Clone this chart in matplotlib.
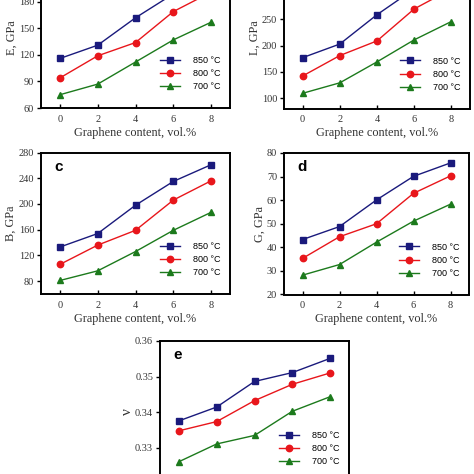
import matplotlib
matplotlib.use("Agg")
import matplotlib.pyplot as plt

# graphene content, vol.%
x = [0, 2, 4, 6, 8]
series_labels = ["850 °C", "800 °C", "700 °C"]

# a: Young's modulus E
E_850 = [116, 131, 162, 189, 205]
E_800 = [94, 119, 134, 169, 191]
E_700 = [75, 87, 112, 137, 157]
# b: longitudinal modulus L
L_850 = [177, 203, 259, 308, 330]
L_800 = [142, 181, 209, 270, 308]
L_700 = [109, 129, 169, 211, 246]
# c: bulk modulus B
B_850 = [133, 154, 198, 235, 261]
B_800 = [106, 136, 159, 206, 236]
B_700 = [81, 96, 126, 159, 187]
# d: shear modulus G
G_850 = [43.3, 48.8, 60.1, 70.1, 75.8]
G_800 = [35.3, 44.5, 50.0, 62.9, 70.3]
G_700 = [28.2, 32.7, 42.2, 51.1, 58.3]
# e: Poisson ratio
nu_850 = [0.3375, 0.3414, 0.3486, 0.3511, 0.3551]
nu_800 = [0.3347, 0.3373, 0.3432, 0.3478, 0.3510]
nu_700 = [0.3260, 0.3310, 0.3334, 0.3402, 0.3443]

colors = ["#1a1a7c", "#e8161b", "#1c7a1c"]
markers = ["s", "o", "^"]

W = H = 474
fig = plt.figure(figsize=(W / 100, H / 100), dpi=100)

serif = "Liberation Serif"
sans = "Liberation Sans"


def px_axes(left, top, right, bottom):
    return fig.add_axes([left / W, 1 - bottom / H, (right - left) / W, (bottom - top) / H])


def panel(rect, data, ylabel, ylim, yticks, letter=None, fmt=None, ysize=8.8):
    ax = px_axes(*rect)
    for vals, c, m, lab in zip(data, colors, markers, series_labels):
        ax.plot(x, vals, color=c, marker=m, markersize=4.6, lw=1.0, label=lab)
    ax.set_xlim(-1, 9)
    ax.set_ylim(*ylim)
    ax.set_xticks(x)
    ax.set_yticks(yticks)
    if fmt:
        ax.set_yticklabels([fmt.format(v) for v in yticks])
    for s in ax.spines.values():
        s.set_linewidth(1.4)
    ax.tick_params(axis="x", direction="in", length=3, width=1, labelsize=7.4, pad=5)
    ax.tick_params(axis="y", direction="out", length=3, width=1, labelsize=7.4, pad=2)
    for t in ax.get_xticklabels() + ax.get_yticklabels():
        t.set_fontfamily(serif)
        t.set_color("#333333")
    ax.set_xlabel("Graphene content, vol.%", fontfamily=serif, fontsize=8.8,
                  color="#333333", labelpad=2)
    ax.set_ylabel(ylabel, fontfamily=serif, fontsize=ysize, color="#333333", labelpad=1)
    if letter:
        ax.text(0.07, 0.9, letter, transform=ax.transAxes, fontfamily=sans,
                fontweight="bold", fontsize=11, va="center", ha="left")
    ax.legend(loc="lower right", bbox_to_anchor=(0.98, 0.08), frameon=False,
              prop={"family": sans, "size": 6.5}, handlelength=2.2, handletextpad=1.5,
              labelspacing=0.45, borderaxespad=0.2)
    return ax


panel((41, -33.5, 230, 108), [E_850, E_800, E_700], "E, GPa", (60, 220),
      [60, 90, 120, 150, 180])
panel((284, -33, 470, 108.5), [L_850, L_800, L_700], "L, GPa", (80, 350),
      [100, 150, 200, 250])
panel((41, 152.5, 230, 294), [B_850, B_800, B_700], "B, GPa", (60, 280),
      [80, 120, 160, 200, 240, 280], letter="c")
panel((284, 153, 469, 294.5), [G_850, G_800, G_700], "G, GPa", (20, 80),
      [20, 30, 40, 50, 60, 70, 80], letter="d")
panel((160, 341, 349, 483), [nu_850, nu_800, nu_700], "ν", (0.32, 0.36),
      [0.32, 0.33, 0.34, 0.35, 0.36], letter="e", fmt="{:.2f}", ysize=11)

fig.savefig("out.png", dpi=100)
